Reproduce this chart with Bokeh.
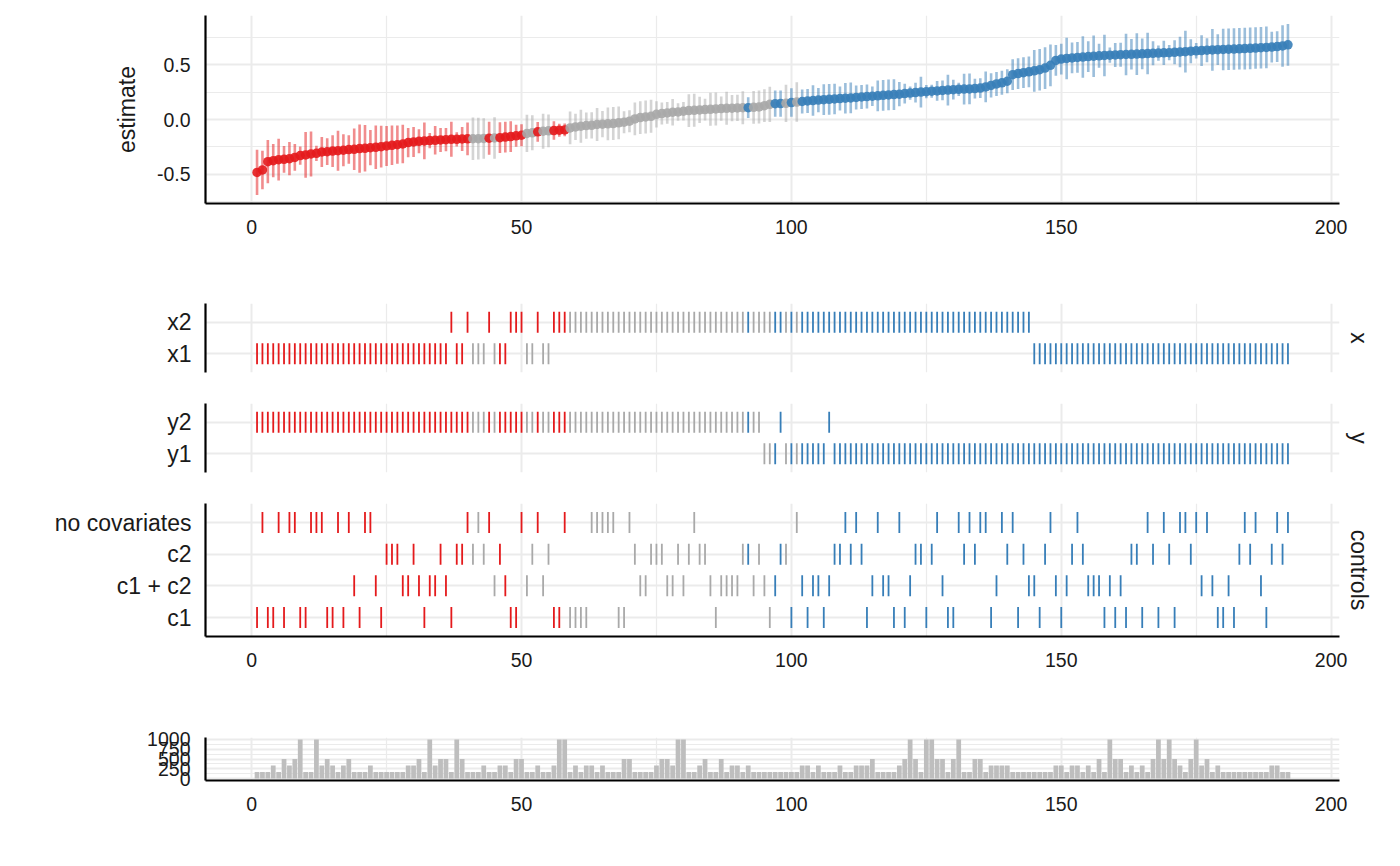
import numpy as np
from bokeh.plotting import figure
from bokeh.layouts import column
from bokeh.models import Range1d, FixedTicker, Title
from bokeh.embed import file_html
from bokeh.resources import INLINE

FONT = "Liberation Sans"
RED, BLUE, GRAY = "#E41A1C", "#377EB8", "#A9A9A9"
TXT = "#1a1a1a"

# ---------------- data ----------------
estimate = [
    -0.482, -0.460, -0.384, -0.375, -0.366, -0.363, -0.357, -0.345, -0.329, -0.323,
    -0.314, -0.308, -0.296, -0.293, -0.287, -0.284, -0.280, -0.274, -0.271, -0.265,
    -0.262, -0.256, -0.253, -0.247, -0.241, -0.235, -0.229, -0.223, -0.210, -0.204,
    -0.198, -0.195, -0.192, -0.189, -0.186, -0.183, -0.180, -0.180, -0.177, -0.176,
    -0.175, -0.174, -0.172, -0.170, -0.168, -0.165, -0.160, -0.155, -0.148, -0.143,
    -0.127, -0.121, -0.112, -0.106, -0.103, -0.100, -0.097, -0.094, -0.076, -0.067,
    -0.061, -0.055, -0.052, -0.045, -0.042, -0.039, -0.036, -0.030, -0.024, -0.015,
    0.006, 0.018, 0.024, 0.030, 0.048, 0.055, 0.061, 0.067, 0.070, 0.076,
    0.082, 0.085, 0.088, 0.091, 0.094, 0.097, 0.100, 0.103, 0.104, 0.106,
    0.108, 0.109, 0.112, 0.115, 0.127, 0.139, 0.145, 0.146, 0.148, 0.155,
    0.160, 0.165, 0.170, 0.174, 0.178, 0.182, 0.185, 0.188, 0.192, 0.195,
    0.198, 0.202, 0.206, 0.210, 0.213, 0.217, 0.221, 0.225, 0.228, 0.232,
    0.237, 0.242, 0.247, 0.251, 0.255, 0.259, 0.262, 0.266, 0.269, 0.273,
    0.276, 0.278, 0.280, 0.283, 0.288, 0.298, 0.312, 0.325, 0.336, 0.350,
    0.410, 0.420, 0.428, 0.436, 0.445, 0.455, 0.470, 0.495, 0.540, 0.552,
    0.558, 0.563, 0.567, 0.571, 0.575, 0.578, 0.582, 0.585, 0.588, 0.590,
    0.592, 0.594, 0.596, 0.598, 0.600, 0.603, 0.605, 0.607, 0.609, 0.611,
    0.614, 0.617, 0.620, 0.624, 0.628, 0.630, 0.633, 0.636, 0.638, 0.640,
    0.642, 0.644, 0.646, 0.648, 0.650, 0.653, 0.656, 0.659, 0.662, 0.666,
    0.672, 0.682,
]

ci_half = [
    .206, .175, .198, .152, .190, .122, .152, .122, .084, .209,
    .206, .069, .137, .122, .145, .183, .145, .130, .190, .221,
    .213, .160, .198, .190, .183, .180, .175, .175, .133, .137,
    .110, .168, .070, .130, .110, .105, .160, .065, .110, .150,
    .195, .190, .185, .150, .190, .140, .140, .140, .100, .100,
    .170, .160, .090, .160, .150, .085, .060, .058, .150, .120,
    .150, .120, .120, .150, .120, .150, .150, .150, .100, .100,
    .150, .150, .150, .150, .120, .100, .100, .120, .080, .085,
    .150, .150, .120, .100, .150, .150, .110, .150, .120, .120,
    .150, .095, .150, .150, .150, .160, .120, .120, .170, .130,
    .180, .110, .110, .140, .110, .140, .140, .140, .110, .140,
    .140, .110, .110, .110, .090, .140, .140, .140, .140, .110,
    .090, .060, .090, .140, .060, .060, .090, .090, .140, .090,
    .060, .140, .140, .090, .090, .140, .110, .110, .110, .110,
    .140, .140, .140, .140, .190, .190, .190, .190, .140, .140,
    .190, .140, .140, .190, .140, .190, .110, .190, .070, .110,
    .110, .190, .140, .190, .140, .190, .110, .070, .110, .070,
    .110, .140, .190, .110, .070, .140, .110, .190, .140, .190,
    .190, .190, .190, .190, .190, .190, .190, .190, .140, .140,
    .190, .190,
]

n_obs = [
    167, 167, 167, 333, 167, 500, 333, 500, 1000, 167,
    167, 1000, 333, 500, 333, 167, 333, 500, 167, 167,
    167, 333, 167, 167, 167, 167, 167, 167, 333, 333,
    500, 167, 1000, 333, 500, 500, 167, 1000, 500, 167,
    167, 167, 333, 167, 167, 333, 333, 167, 500, 500,
    167, 167, 333, 167, 167, 333, 1000, 1000, 167, 333,
    167, 333, 333, 167, 333, 167, 167, 167, 500, 500,
    167, 167, 167, 167, 333, 500, 500, 333, 1000, 1000,
    167, 167, 333, 500, 167, 167, 500, 167, 333, 333,
    167, 333, 167, 167, 167, 167, 167, 167, 167, 167,
    167, 333, 333, 167, 333, 167, 167, 167, 333, 167,
    167, 333, 333, 333, 500, 167, 167, 167, 167, 333,
    500, 1000, 500, 167, 1000, 1000, 500, 500, 167, 500,
    1000, 167, 167, 500, 500, 167, 333, 333, 333, 333,
    167, 167, 167, 167, 167, 167, 167, 167, 333, 333,
    167, 333, 333, 167, 333, 167, 500, 167, 1000, 500,
    500, 167, 333, 167, 333, 167, 500, 1000, 500, 1000,
    500, 333, 167, 500, 1000, 333, 500, 167, 333, 167,
    167, 167, 167, 167, 167, 167, 167, 167, 333, 333,
    167, 167,
]

# specification ranks that use each choice
x2_specs = [37, 40, 44, 48, 49, 50, 53] + list(range(56, 145))
y2_specs = list(range(1, 95)) + [98, 107]
ctrl_no_cov = [2, 5, 7, 8, 11, 12, 13, 16, 18, 21, 22, 40, 42, 44, 50, 53, 58, 63, 64, 65,
               66, 67, 70, 82, 101, 110, 112, 116, 120, 127, 131, 133, 135, 136, 139, 141,
               148, 153, 166, 169, 172, 173, 175, 177, 184, 186, 190, 192]
ctrl_c2 = [25, 26, 27, 30, 35, 38, 39, 41, 43, 46, 52, 55, 71, 74, 75, 76, 79, 81, 83, 84,
           91, 92, 94, 98, 99, 108, 109, 111, 113, 123, 124, 126, 132, 134, 140, 143, 147,
           152, 154, 163, 164, 167, 170, 174, 183, 185, 189, 191]
ctrl_c1_c2 = [19, 23, 28, 29, 31, 33, 34, 36, 45, 47, 51, 54, 72, 73, 77, 78, 80, 85, 87,
              88, 89, 90, 93, 95, 97, 102, 104, 105, 107, 115, 117, 118, 122, 128, 138, 144,
              145, 149, 151, 155, 156, 157, 159, 161, 176, 178, 181, 187]
ctrl_c1 = [1, 3, 4, 6, 9, 10, 14, 15, 17, 20, 24, 32, 37, 48, 49, 56, 57, 59, 60, 61, 62,
           68, 69, 86, 96, 100, 103, 106, 114, 119, 121, 125, 129, 130, 137, 142, 146, 150,
           158, 160, 162, 165, 168, 171, 179, 180, 182, 188]

x_ticks = [0, 50, 100, 150, 200]
x_minor = [25, 75, 125, 175]
est_ticks = [-0.5, 0.0, 0.5]
est_tick_labels = ["-0.5", "0.0", "0.5"]
est_minor = [-0.75, -0.25, 0.25, 0.75]
n_ticks = [0, 250, 500, 750, 1000]
n_minor = [125, 375, 625, 875]

# ---------------- derived ----------------
specs = np.arange(1, len(estimate) + 1)
est = np.array(estimate)
half = np.array(ci_half)
lo, hi = est - half, est + half
colors = [RED if h < 0 else (BLUE if l > 0 else GRAY) for l, h in zip(lo, hi)]
color_of = dict(zip(specs.tolist(), colors))

X_RANGE = (-8.55, 201.55)
LEFT, RIGHT = 205, 45
W = LEFT + 1134 + RIGHT
NUM = "19.5px"     # numeric tick labels
CAT = "23px"       # row labels / strip labels


def make_fig(height, top, bottom, y_range):
    p = figure(width=W, height=height, x_range=Range1d(*X_RANGE), y_range=y_range,
               min_border_left=LEFT, min_border_right=RIGHT, min_border_top=top,
               min_border_bottom=bottom, output_backend="svg", toolbar_location=None,
               tools="")
    p.outline_line_color = None
    p.background_fill_color = "white"
    p.border_fill_color = "white"
    for ax in (p.xaxis[0], p.yaxis[0]):
        ax.axis_line_color = "black"
        ax.axis_line_width = 2.2
        ax.major_tick_line_color = None
        ax.minor_tick_line_color = None
        ax.major_label_text_font = FONT
        ax.major_label_text_font_size = NUM
        ax.major_label_text_color = TXT
        ax.major_label_standoff = 9
    p.xaxis.major_label_standoff = 10
    p.xaxis.ticker = FixedTicker(ticks=x_ticks, minor_ticks=x_minor)
    p.xgrid.ticker = FixedTicker(ticks=x_ticks, minor_ticks=x_minor)
    p.xgrid.grid_line_color = "#EBEBEB"
    p.xgrid.grid_line_width = 2
    p.xgrid.minor_grid_line_color = "#EBEBEB"
    p.xgrid.minor_grid_line_width = 1.2
    p.ygrid.grid_line_color = "#EBEBEB"
    p.ygrid.grid_line_width = 2
    return p


def strip(p, text):
    p.add_layout(Title(text=text, align="center", text_font=FONT, text_font_size=CAT,
                       text_font_style="normal", text_color=TXT, standoff=12), "right")


# ---- curve panel ----
p1 = make_fig(290, 15, 87, Range1d(-0.766, 0.95))
p1.yaxis.ticker = FixedTicker(ticks=est_ticks, minor_ticks=est_minor)
p1.ygrid.ticker = FixedTicker(ticks=est_ticks, minor_ticks=est_minor)
p1.yaxis.major_label_overrides = dict(zip(est_ticks, est_tick_labels))
p1.ygrid.minor_grid_line_color = "#EBEBEB"
p1.ygrid.minor_grid_line_width = 1.2
p1.yaxis.axis_label = "estimate"
p1.yaxis.axis_label_text_font = FONT
p1.yaxis.axis_label_text_font_size = "23px"
p1.yaxis.axis_label_text_font_style = "normal"
p1.yaxis.axis_label_text_color = TXT
p1.yaxis.axis_label_standoff = 14
p1.segment(x0=specs, y0=lo, x1=specs, y1=hi, line_color=colors, line_width=2.6,
           line_alpha=0.5)
p1.scatter(specs, est, size=9.5, fill_color=colors, line_color=None, fill_alpha=0.9)


def choice_panel(height, top, bottom, rows, show_x):
    nrow = len(rows)
    p = make_fig(height, top, bottom, Range1d(0.4, nrow + 0.6))
    p.yaxis.ticker = FixedTicker(ticks=list(range(1, nrow + 1)))
    p.ygrid.ticker = FixedTicker(ticks=list(range(1, nrow + 1)))
    p.yaxis.major_label_overrides = {i + 1: name for i, (name, _) in enumerate(rows)}
    p.yaxis.major_label_text_font_size = CAT
    p.yaxis.major_label_standoff = 8
    xs, ys, cs = [], [], []
    for i, (name, members) in enumerate(rows):
        for s in members:
            xs.append(s)
            ys.append(i + 1)
            cs.append(color_of[s])
    p.rect(x=xs, y=ys, width=1.8, height=21, width_units="screen", height_units="screen",
           fill_color=cs, line_color=None)
    if not show_x:
        p.xaxis.visible = False
    return p


all_specs = specs.tolist()
x1_specs = [s for s in all_specs if s not in x2_specs]
y1_specs = [s for s in all_specs if s not in y2_specs]

p2 = choice_panel(98, 13, 16, [("x1", x1_specs), ("x2", x2_specs)], False)
strip(p2, "x")
p3 = choice_panel(100, 15, 16, [("y1", y1_specs), ("y2", y2_specs)], False)
strip(p3, "y")
p4 = choice_panel(212, 15, 64, [("c1", ctrl_c1), ("c1 + c2", ctrl_c1_c2), ("c2", ctrl_c2),
                                ("no covariates", ctrl_no_cov)], True)
strip(p4, "controls")

# ---- sample size panel ----
p5 = make_fig(130, 37, 50, Range1d(-50, 1050))
p5.yaxis.ticker = FixedTicker(ticks=n_ticks, minor_ticks=n_minor)
p5.ygrid.ticker = FixedTicker(ticks=n_ticks, minor_ticks=n_minor)
p5.ygrid.minor_grid_line_color = "#EBEBEB"
p5.ygrid.minor_grid_line_width = 1.2
p5.vbar(x=specs, top=n_obs, bottom=0, width=0.88, fill_color="#BEBEBE", line_color=None)

layout = column(p1, p2, p3, p4, p5, spacing=0)
open("out.html", "w").write(file_html(layout, INLINE))
